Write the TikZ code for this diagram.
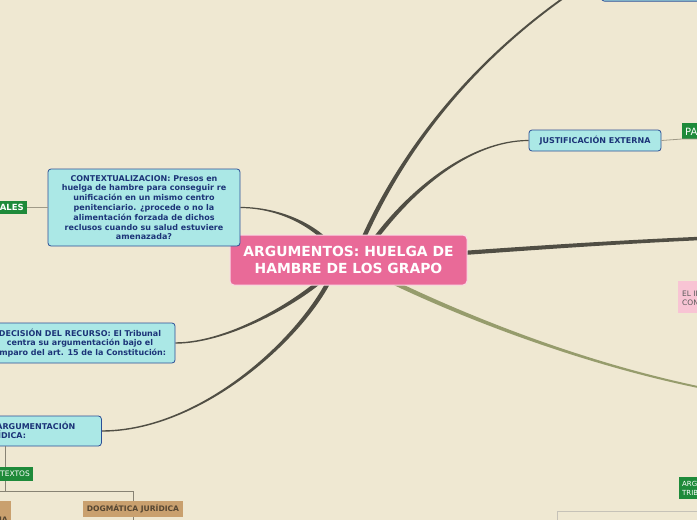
\documentclass[tikz,border=0pt]{standalone}
\usepackage{fontspec}
\setmainfont{DejaVu Sans}
\usetikzlibrary{calc,positioning}

\definecolor{paper}{RGB}{239,232,210}
\definecolor{rootpink}{RGB}{233,106,152}
\definecolor{topicfill}{RGB}{171,232,230}
\definecolor{topicdraw}{RGB}{44,78,150}
\definecolor{topictext}{RGB}{28,52,120}
\definecolor{taggreen}{RGB}{30,138,58}
\definecolor{notetan}{RGB}{201,160,110}
\definecolor{notetext}{RGB}{85,70,50}
\definecolor{notepink}{RGB}{248,196,212}
\definecolor{linkdark}{RGB}{80,78,68}
\definecolor{linkolive}{RGB}{150,156,108}
\definecolor{linkthin}{RGB}{160,154,136}

\pgfdeclarelayer{paperlayer}
\pgfdeclarelayer{links}
\pgfsetlayers{paperlayer,links,main}

\tikzset{
  root/.style={rounded corners=4pt, fill=rootpink, draw=white!75!rootpink, line width=1pt,
    text=white, font=\bfseries\fontsize{13.9}{17}\selectfont, align=center},
  topic/.style={rounded corners=3pt, fill=topicfill, draw=topicdraw, line width=0.8pt,
    text=topictext, font=\bfseries\fontsize{8}{9.8}\selectfont, align=center, inner sep=3pt},
  tag/.style={fill=taggreen, text=white, font=\bfseries\fontsize{8.5}{10}\selectfont, inner sep=3pt},
  tannote/.style={fill=notetan, text=notetext, font=\bfseries\fontsize{7.6}{9}\selectfont, inner sep=3pt},
  pinknote/.style={fill=notepink, text=black!65, font=\fontsize{7.5}{9}\selectfont, inner sep=4pt},
  thinlink/.style={draw=linkthin, line width=0.8pt},
  treelink/.style={draw=linkthin!85!black, line width=0.8pt},
}

% tapered branch: [colour]{start}{control 1}{control 2}{end}{half width at start}{half width at end}
\newcommand\branch[7][linkdark]{%
  \path ($(#2)!#6!90:(#3)$) coordinate (s1) ($(#2)!#6!-90:(#3)$) coordinate (s2)
        ($(#5)!#7!-90:(#4)$) coordinate (e1) ($(#5)!#7!90:(#4)$) coordinate (e2);
  \fill[#1] (s1) .. controls ($(#3)+(s1)-(#2)$) and ($(#4)+(e1)-(#5)$) .. (e1)
    -- (e2) .. controls ($(#4)+(e2)-(#5)$) and ($(#3)+(s2)-(#2)$) .. (s2) -- cycle;}

\begin{document}
\begin{tikzpicture}[x=1pt,y=-1pt]
\useasboundingbox (0,0) rectangle (697,520);
\begin{pgfonlayer}{paperlayer}
\fill[paper] (0,0) rectangle (697,520);
\end{pgfonlayer}

% main topic
\node[root, minimum width=237pt, minimum height=50pt] (root) at (348.5,260) {ARGUMENTOS: HUELGA DE\\HAMBRE DE LOS GRAPO};

% subtopics
\node[topic, minimum width=192pt, minimum height=77pt] (context) at (144,207.5) {CONTEXTUALIZACION: Presos en\\huelga de hambre para conseguir re\\unificación en un mismo centro\\penitenciario. ¿procede o no la\\alimentación forzada de dichos\\reclusos cuando su salud estuviere\\amenazada?};
\node[topic, minimum width=190pt, minimum height=40pt] (decision) at (80,343) {DECISIÓN DEL RECURSO: El Tribunal\\centra su argumentación bajo el\\amparo del art. 15 de la Constitución:};
\node[topic, align=left, text width=116pt, minimum height=30pt, anchor=west] (argument) at (-21,431) {LA ARGUMENTACIÓN\\JURÍDICA:};
\node[topic, minimum width=132pt, minimum height=21pt] (external) at (595,140.5) {JUSTIFICACIÓN EXTERNA};
\node[topic, minimum width=120pt, minimum height=56pt, anchor=south west] (internal) at (601,1.5) {JUSTIFICACIÓN INTERNA};

% labels and notes
\node[tag, anchor=east, minimum height=13pt] (facts) at (27,207.5) {ANTECEDENTES PROCESALES};
\node[tag, anchor=east, minimum height=14pt, font=\fontsize{7.5}{9}\selectfont] (texts) at (33,474) {CONTEXTOS};
\node[tag, anchor=south west, minimum height=16pt, font=\fontsize{10}{12}\selectfont] (params) at (682,139) {PARÁMETROS};
\node[tag, anchor=north west, align=left, minimum height=22pt, font=\fontsize{7}{8.5}\selectfont] (tribunal) at (679,477) {ARGUMENTOS DEL\\TRIBUNAL};
\node[pinknote, anchor=north west, align=left, minimum height=32pt] (interest) at (678,281) {EL INTERÉS\\CONSTITUCIONAL};
\node[tannote, minimum width=100pt, minimum height=16pt] (dogma) at (133,509) {DOGMÁTICA JURÍDICA};
\node[tannote, anchor=north east, minimum height=38pt] (caselaw) at (11,501) {JURISPRUDENCIA};
\draw[linkthin!60, line width=1pt] (557,511) rectangle (760,600);

% thin connectors
\coordinate (bus) at (5,491);
\coordinate (dogmakid) at (133,540);
\draw[thinlink] (facts.east) -- (context.west);
\draw[thinlink] (external.east) -- (params.south west) -- (params.south east);
\draw[treelink] (argument.south -| bus) -- (texts.north -| bus);
\draw[treelink] (texts.south -| bus) -- (bus) -| (dogma.north);
\draw[treelink] (bus) -| (caselaw.north);
\draw[treelink] (dogma.south) -- (dogmakid);

% branches from the main topic
\coordinate (rightkid) at (760,236);
\coordinate (olivekid) at (760,398);
\path (root.center) ++(-18,-15) coordinate (s-context)
      (root.center) ++(12,-15) coordinate (s-internal)
      (root.center) ++(22,-15) coordinate (s-external)
      (root.center) ++(100,-6) coordinate (s-right)
      (root.center) ++(40,20) coordinate (s-olive)
      (root.center) ++(-25,18) coordinate (s-decision)
      (root.center) ++(-18,18) coordinate (s-argument);
\begin{pgfonlayer}{links}
\clip (0,0) rectangle (697,520);
\branch{s-context}{310,222}{275,207.5}{context.east}{2.2pt}{0.6pt}
\branch{s-internal}{392,172}{460,60}{internal.west}{2.2pt}{0.9pt}
\branch{s-external}{410,190}{470,140.5}{external.west}{2.2pt}{0.6pt}
\branch{s-right}{560,246}{650,240}{rightkid}{2.1pt}{1.7pt}
\branch[linkolive]{s-olive}{450,310}{600,375}{olivekid}{2.2pt}{0.9pt}
\branch{s-decision}{300,300}{230,343}{decision.east}{2.2pt}{0.7pt}
\branch{s-argument}{300,340}{200,431}{argument.east}{2.2pt}{0.7pt}
\end{pgfonlayer}
\end{tikzpicture}
\end{document}
